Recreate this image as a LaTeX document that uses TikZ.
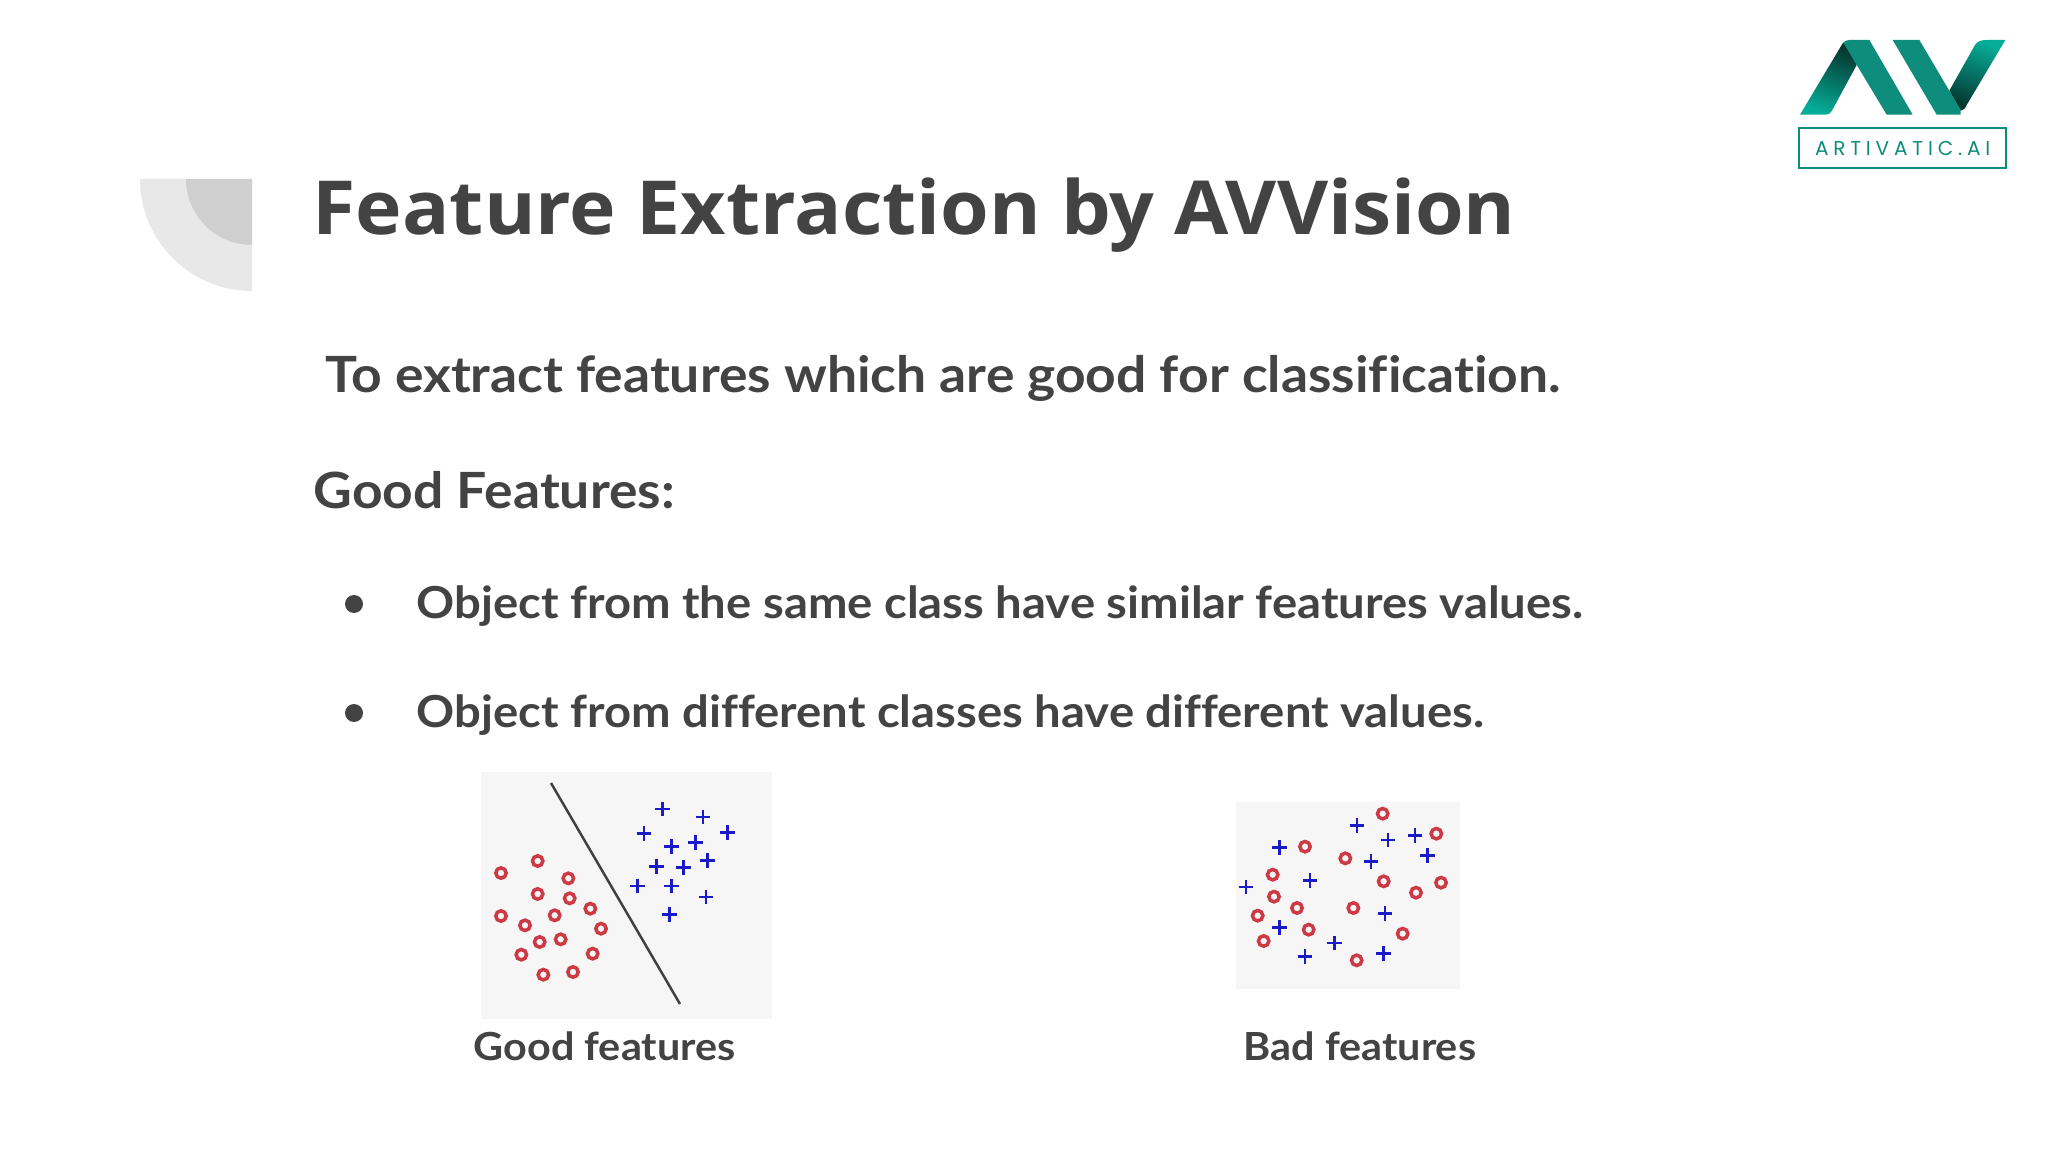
\documentclass[tikz,border=0pt]{standalone}
\usepackage{fontspec}
\setmainfont[FakeStretch=1.07,Ligatures=NoCommon]{Lato}
\newfontfamily\titlefont[FakeStretch=1.055]{Open Sans}
\newfontfamily\logofont[LetterSpace=24]{Poppins}
\usepackage{tikz}

\definecolor{textgray}{HTML}{434343}
\definecolor{logoteal}{HTML}{0E8C7C}
\definecolor{logodark}{HTML}{06362F}
\definecolor{logolight}{HTML}{05AD98}
\definecolor{markred}{HTML}{CC3B45}
\definecolor{markblue}{HTML}{1A1AC8}

\tikzset{
  bodytext/.style={anchor=base west, inner sep=0pt, text=textgray, font=\fontsize{14.2pt}{17pt}\selectfont\bfseries},
  itemtext/.style={anchor=base west, inner sep=0pt, text=textgray, font=\fontsize{12.55pt}{15pt}\selectfont\bfseries},
  captext/.style={anchor=base west, inner sep=0pt, text=textgray, font=\fontsize{11pt}{13pt}\selectfont\bfseries},
  plusmark/.pic={\draw[markblue, line width=.8pt] (-7.3,0) -- (7.3,0) (0,-7.3) -- (0,7.3);},
  circmark/.pic={\draw[markred, line width=1pt] (0,0) circle (5.2);}
}

\begin{document}
\begin{tikzpicture}[x=.01cm,y=-.01cm]
\useasboundingbox (0,0) rectangle (2048,1152);
\fill[white] (0,0) rectangle (2048,1152);

% corner ornament
\fill[black!9] (140,179) arc[start angle=180,end angle=270,x radius=112,y radius=-112] -- (252,179) -- cycle;
\fill[black!19] (186,179) arc[start angle=180,end angle=270,x radius=66,y radius=-66] -- (252,179) -- cycle;

% title and body
\node[anchor=base west, inner sep=0pt, text=textgray, font=\fontsize{21.2pt}{26pt}\selectfont\titlefont\bfseries] (title) at (312,235) {Feature Extraction by AVVision};
\node[bodytext] (goal) at (325,393) {To extract features which are good for classification.};
\node[bodytext] (good) at (313,509) {Good Features:};

% bullets
\fill[textgray] (354,604) circle (9);
\node[itemtext] (itemone) at (416,618) {Object from the same class have similar features values.};
\fill[textgray] (354,713) circle (9);
\node[itemtext] (itemtwo) at (416,727) {Object from different classes have different values.};

% good features plot
\fill[black!3.5] (481,772) rectangle (772,1019);
\draw[black!75, line width=.7pt] (551,783) -- (680,1004);
\foreach \x/\y in {578/147,699/171,522/220,773/217,605/260,677/248,560/320,640/323,712/301,502/378,605/378,708/411,598/463}
  \pic at ({470+\x/3},{760+\y/3}) {plusmark};
\foreach \x/\y in {203/303,93/339,295/355,203/402,299/415,361/446,93/468,254/466,165/496,393/506,209/546,272/538,154/584,368/581,220/644,309/636}
  \pic at ({470+\x/3},{760+\y/3}) {circmark};
\node[captext] (goodcap) at (473,1060) {Good features};

% bad features plot
\fill[black!3.5] (1236,802) rectangle (1460,989);
\foreach \x/\y in {381/107,474/150,555/137,592/196,423/215,148/172,240/271,48/291,148/412,465/371,313/459,225/500,461/490}
  \pic at ({1230+\x/3},{790+\y/3}) {plusmark};
\foreach \x/\y in {458/71,619/131,225/170,346/205,128/254,461/274,633/278,558/308,132/320,201/354,370/354,83/377,236/419,518/431,101/453,380/511}
  \pic at ({1230+\x/3},{790+\y/3}) {circmark};
\node[captext] (badcap) at (1243,1060) {Bad features};

% logo
\begin{scope}[shift={(1790,20)},x=.01cm/3,y=-.01cm/3]
\shade[top color=logodark, bottom color=logolight, shading angle=-20] (30,284) -- (105,284) .. controls (118,284) and (122,278) .. (128,268) -- (200,135) -- (165,68) -- (158,70) -- cycle;
\shade[top color=logolight, bottom color=logodark, shading angle=-20] (646,60) -- (590,60) .. controls (570,60) and (562,65) .. (555,75) -- (478,212) -- (512,272) .. controls (520,272) and (525,265) .. (530,255) -- cycle;
\fill[logoteal] (160,68) .. controls (165,62) and (170,60) .. (180,60) -- (238,60) -- (368,284) -- (290,284) -- cycle;
\fill[logoteal] (308,60) -- (388,60) -- (512,270) -- (512,284) -- (440,284) -- cycle;
\draw[logoteal, line width=.6pt] (27,325) rectangle (648,445);
\node[inner sep=0pt, text=logoteal, font=\fontsize{5.7pt}{7pt}\selectfont\logofont] (logotext) at (338,385) {ARTIVATIC.AI};
\end{scope}
\end{tikzpicture}
\end{document}
